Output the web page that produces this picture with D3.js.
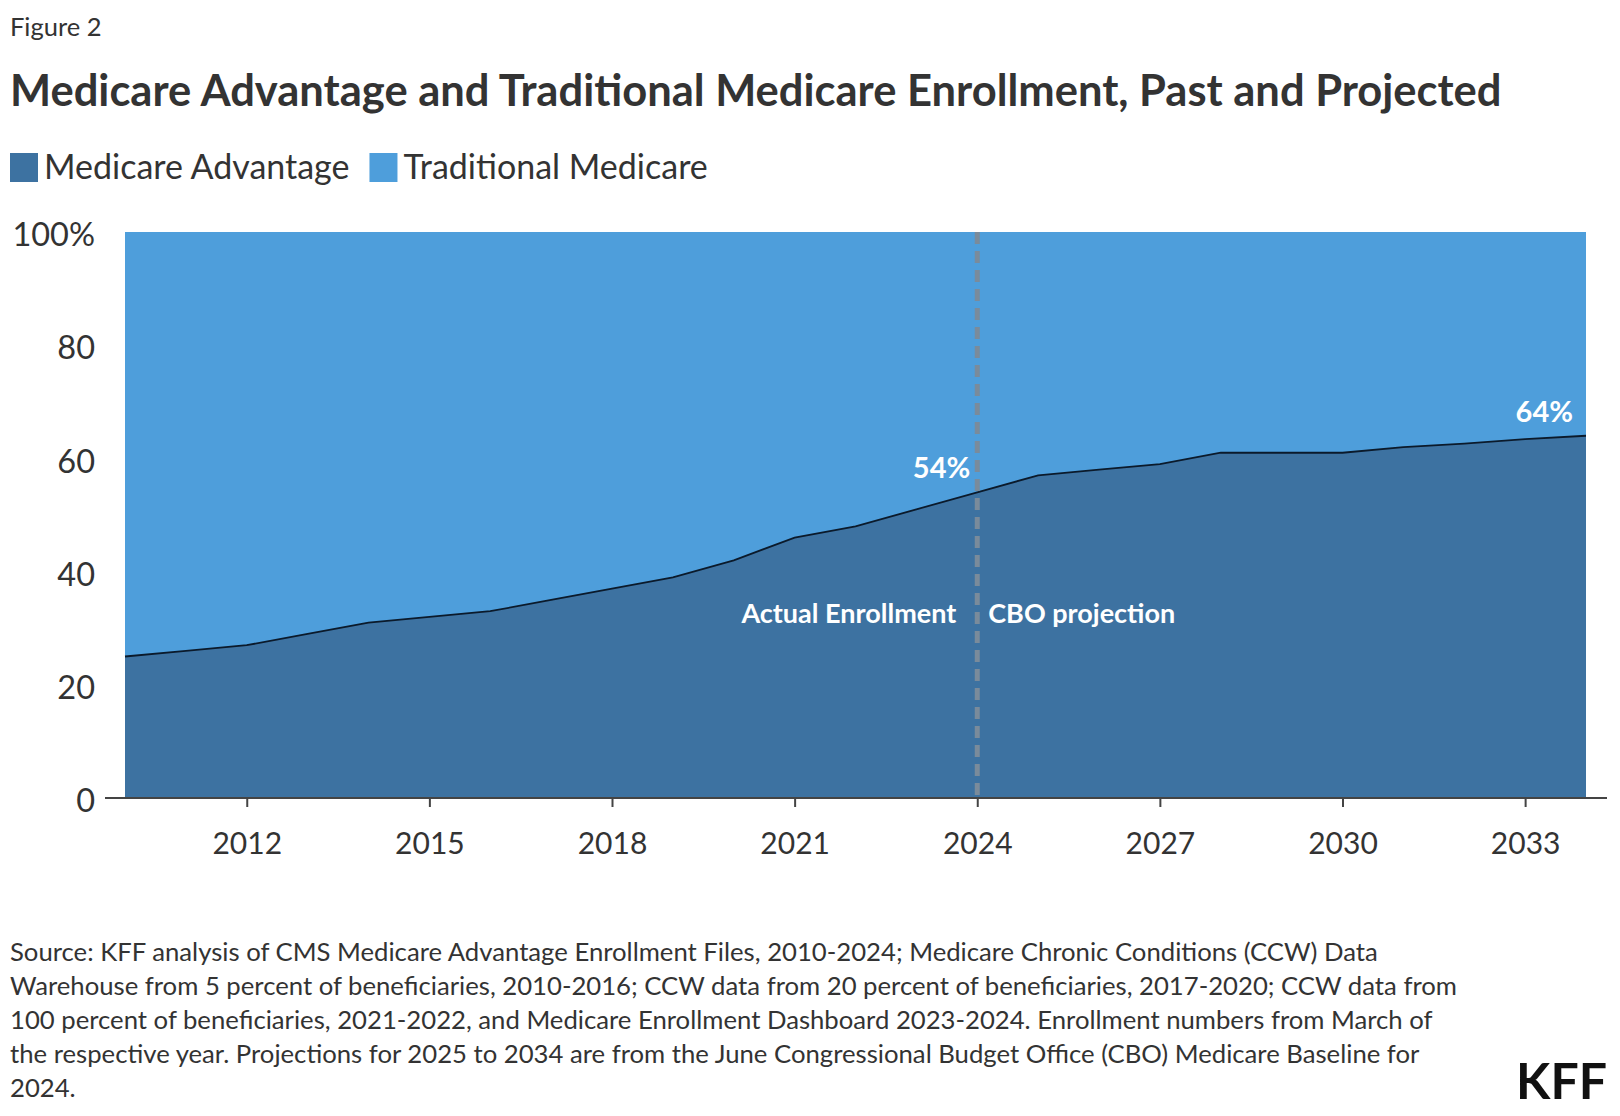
<!DOCTYPE html>
<html>
<head>
<meta charset="utf-8">
<script src="https://cdn.jsdelivr.net/npm/d3@7"></script>
<style>
  body { margin: 0; background: #fff; }
  svg text { font-family: Lato, "Open Sans", sans-serif; }
</style>
</head>
<body>
<svg id="chart" width="1620" height="1116"></svg>
<script>
// Data
const years = d3.range(2010, 2035);
const maShare = [25, 26, 27, 29, 31, 32, 33, 35, 37, 39, 42, 46, 48, 51, 54,
                 57, 58, 59, 61, 61, 61, 62, 62.6, 63.4, 64];
const xTickYears = [2012, 2015, 2018, 2021, 2024, 2027, 2030, 2033];
const yTicks = [0, 20, 40, 60, 80, 100];
const seriesNames = ['Medicare Advantage', 'Traditional Medicare'];
const sourceLines = [
  'Source: KFF analysis of CMS Medicare Advantage Enrollment Files, 2010-2024; Medicare Chronic Conditions (CCW) Data',
  'Warehouse from 5 percent of beneficiaries, 2010-2016; CCW data from 20 percent of beneficiaries, 2017-2020; CCW data from',
  '100 percent of beneficiaries, 2021-2022, and Medicare Enrollment Dashboard 2023-2024. Enrollment numbers from March of',
  'the respective year. Projections for 2025 to 2034 are from the June Congressional Budget Office (CBO) Medicare Baseline for',
  '2024.'
];

const colors = { ma: '#3d72a1', tm: '#4e9edb', text: '#333333' };

const svg = d3.select('#chart');
const margin = { top: 232, right: 34, bottom: 318, left: 125 };
const width = 1620 - margin.left - margin.right;
const height = 1116 - margin.top - margin.bottom;

const data = years.map((y, i) => ({ year: y, ma: maShare[i] }));

const x = d3.scaleLinear().domain([2010, 2034]).range([0, width]);
const y = d3.scaleLinear().domain([0, 100]).range([height, 0]);

// Header
svg.append('text').attr('x', 10).attr('y', 36)
  .attr('font-size', 25.5).attr('fill', colors.text).text('Figure 2');
svg.append('text').attr('x', 10).attr('y', 106)
  .attr('font-size', 43.5).attr('font-weight', 'bold').attr('fill', colors.text)
  .text('Medicare Advantage and Traditional Medicare Enrollment, Past and Projected');

// Legend
const legend = svg.append('g').attr('transform', 'translate(10,153)');
let lx = 0;
seriesNames.forEach((name, i) => {
  const g = legend.append('g').attr('transform', 'translate(' + lx + ',0)');
  g.append('rect').attr('width', 28).attr('height', 29)
    .attr('fill', i === 0 ? colors.ma : colors.tm);
  const t = g.append('text').attr('x', 34).attr('y', 26)
    .attr('font-size', 34).attr('fill', colors.text).text(name);
  lx += 34 + t.node().getComputedTextLength() + 20;
});

const plot = svg.append('g').attr('transform', 'translate(' + margin.left + ',' + margin.top + ')');

// Traditional Medicare fills the rest up to 100%
plot.append('path').datum(data)
  .attr('fill', colors.tm)
  .attr('d', d3.area().x(d => x(d.year)).y0(d => y(d.ma)).y1(y(100)));

plot.append('path').datum(data)
  .attr('fill', colors.ma)
  .attr('d', d3.area().x(d => x(d.year)).y0(y(0)).y1(d => y(d.ma)));

plot.append('path').datum(data)
  .attr('fill', 'none').attr('stroke', '#0b1a2b').attr('stroke-width', 1.8)
  .attr('d', d3.line().x(d => x(d.year)).y(d => y(d.ma)));

// Divider between actual and projected
plot.append('line')
  .attr('x1', x(2024)).attr('x2', x(2024)).attr('y1', 0).attr('y2', height)
  .attr('stroke', '#7a8b9b').attr('stroke-width', 5).attr('stroke-dasharray', '12,7');

// Axes
const xAxis = plot.append('g').attr('transform', 'translate(0,' + height + ')')
  .call(d3.axisBottom(x).tickValues(xTickYears).tickFormat(d3.format('d')).tickSize(9).tickPadding(26));
xAxis.select('.domain').remove();
xAxis.append('line').attr('x1', -20).attr('x2', width + 21)
  .attr('stroke', '#444').attr('stroke-width', 2.2);
xAxis.selectAll('.tick line').attr('stroke', '#444').attr('stroke-width', 2);
xAxis.selectAll('.tick text').attr('font-size', 30).attr('fill', colors.text)
  .attr('font-family', 'Lato, sans-serif');

const yAxis = plot.append('g')
  .call(d3.axisLeft(y).tickValues(yTicks).tickSize(0).tickPadding(30)
    .tickFormat(d => d === 100 ? '100%' : d));
yAxis.select('.domain').remove();
yAxis.selectAll('.tick text').attr('font-size', 32.5).attr('fill', colors.text)
  .attr('dy', '0.42em')
  .attr('font-family', 'Lato, sans-serif');

// Annotations
const last = data[data.length - 1];
const at2024 = data.find(d => d.year === 2024);
plot.append('text').attr('x', x(2024) - 7).attr('y', y(at2024.ma) - 14)
  .attr('text-anchor', 'end').attr('font-size', 29).attr('font-weight', 'bold')
  .attr('fill', '#fff').text(Math.round(at2024.ma) + '%');
plot.append('text').attr('x', x(last.year) - 13).attr('y', y(last.ma) - 14)
  .attr('text-anchor', 'end').attr('font-size', 29).attr('font-weight', 'bold')
  .attr('fill', '#fff').text(Math.round(last.ma) + '%');
plot.append('text').attr('x', x(2024) - 21).attr('y', y(31))
  .attr('text-anchor', 'end').attr('font-size', 27).attr('font-weight', 'bold')
  .attr('fill', '#fff').text('Actual Enrollment');
plot.append('text').attr('x', x(2024) + 11).attr('y', y(31))
  .attr('font-size', 27).attr('font-weight', 'bold')
  .attr('fill', '#fff').text('CBO projection');

// Source note
svg.append('g').selectAll('text').data(sourceLines).join('text')
  .attr('x', 10).attr('y', (d, i) => 961 + i * 34)
  .attr('font-size', 25.7).attr('fill', colors.text).text(d => d);

svg.append('text').attr('x', 1607).attr('y', 1099).attr('text-anchor', 'end')
  .attr('font-size', 50).attr('font-weight', 'bold').attr('fill', '#111')
  .attr('font-family', '"Liberation Sans", Arial, sans-serif')
  .text('KFF');
</script>
</body>
</html>
